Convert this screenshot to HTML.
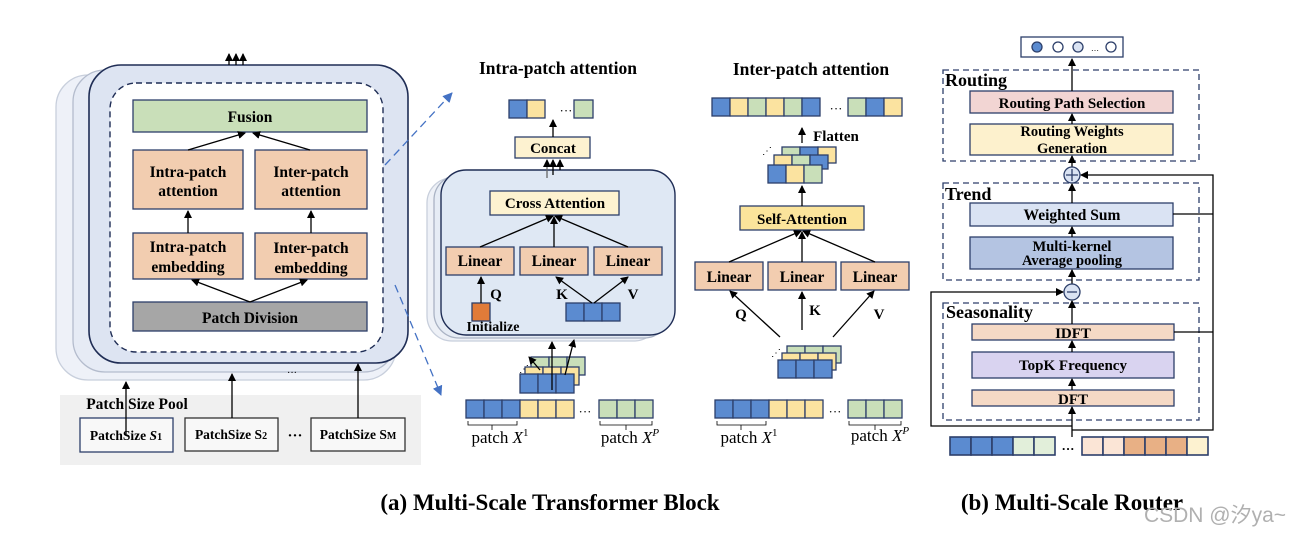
<!DOCTYPE html>
<html><head><meta charset="utf-8"><style>
body{margin:0;background:#fff;}
svg{display:block;font-family:"Liberation Serif",serif;}
.b{font-weight:bold;}
</style></head><body>
<svg width="1294" height="536" viewBox="0 0 1294 536" xmlns="http://www.w3.org/2000/svg">
<defs>
<marker id="a" markerWidth="8" markerHeight="8" refX="7" refY="4" orient="auto" markerUnits="userSpaceOnUse"><path d="M0,0 L8,4 L0,8 Z" fill="#000"/></marker>
<marker id="ab" markerWidth="10" markerHeight="10" refX="9" refY="5" orient="auto" markerUnits="userSpaceOnUse"><path d="M0,0 L10,5 L0,10 Z" fill="#4472c4"/></marker>
</defs>
<g stroke="#000" stroke-width="1.3" fill="none">
<rect x="60" y="395" width="361" height="70" fill="#f0f0f0" stroke="none"/>
<rect x="56" y="75" width="340" height="305" rx="32" fill="#eef1f8" stroke="#c8cfdc"/>
<rect x="73" y="70" width="323" height="302" rx="32" fill="#e6ebf5" stroke="#b4bccd"/>
<rect x="89" y="65" width="319" height="298" rx="32" fill="#dde4f2" stroke="#1f2d55" stroke-width="1.6"/>
<rect x="110" y="83" width="273" height="269" rx="26" fill="#fff" stroke="#1f2d55" stroke-dasharray="6,4" stroke-width="1.4"/>
<rect x="133" y="100" width="234" height="32" fill="#c9dfb9" stroke="#2d3f6a"/>
<rect x="133" y="150" width="110" height="59" fill="#f2cdb0" stroke="#2d3f6a"/>
<rect x="255" y="150" width="112" height="59" fill="#f2cdb0" stroke="#2d3f6a"/>
<rect x="133" y="233" width="110" height="46" fill="#f2cdb0" stroke="#2d3f6a"/>
<rect x="255" y="233" width="112" height="46" fill="#f2cdb0" stroke="#2d3f6a"/>
<rect x="133" y="302" width="234" height="29" fill="#a6a6a6" stroke="#2d3f6a"/>
<line x1="188" y1="150" x2="245" y2="133" marker-end="url(#a)"/>
<line x1="310" y1="150" x2="253" y2="133" marker-end="url(#a)"/>
<line x1="188" y1="233" x2="188" y2="211" marker-end="url(#a)"/>
<line x1="311" y1="233" x2="311" y2="211" marker-end="url(#a)"/>
<line x1="250" y1="302" x2="192" y2="280" marker-end="url(#a)"/>
<line x1="250" y1="302" x2="307" y2="280" marker-end="url(#a)"/>
<line x1="229" y1="65" x2="229" y2="54" marker-end="url(#a)"/>
<line x1="236" y1="65" x2="236" y2="54" marker-end="url(#a)"/>
<line x1="243" y1="65" x2="243" y2="54" marker-end="url(#a)"/>
<rect x="80" y="418" width="93" height="34" fill="#f8f8f8" stroke="#2d3f6a"/>
<rect x="185" y="418" width="93" height="33" fill="#f8f8f8" stroke="#333"/>
<rect x="311" y="418" width="94" height="33" fill="#f8f8f8" stroke="#333"/>
<line x1="126" y1="434" x2="126" y2="382" marker-end="url(#a)"/>
<line x1="232" y1="418" x2="232" y2="374" marker-end="url(#a)"/>
<line x1="358" y1="418" x2="358" y2="364" marker-end="url(#a)"/>
<line x1="385" y1="165" x2="452" y2="93" stroke="#4472c4" stroke-dasharray="8,5" marker-end="url(#ab)"/>
<line x1="395" y1="285" x2="441" y2="395" stroke="#4472c4" stroke-dasharray="8,5" marker-end="url(#ab)"/>

<rect x="427" y="178" width="232" height="163" rx="25" fill="#eef1f7" stroke="#c8cfdc"/>
<rect x="434" y="175" width="235" height="163" rx="25" fill="#e6ecf5" stroke="#aab3c4"/>
<rect x="441" y="170" width="234" height="165" rx="25" fill="#dfe8f4" stroke="#1f2d55" stroke-width="1.4"/>
<rect x="509" y="100" width="18" height="18" fill="#5b8bd0" stroke="#2d3f6a"/>
<rect x="527" y="100" width="18" height="18" fill="#fbe3a0" stroke="#2d3f6a"/>
<rect x="574" y="100" width="19" height="18" fill="#c9dfb9" stroke="#2d3f6a"/>
<rect x="515" y="137" width="75" height="21" fill="#fdf2d0" stroke="#2d3f6a"/>
<line x1="553" y1="137" x2="553" y2="120" marker-end="url(#a)"/>
<line x1="547" y1="178" x2="547" y2="160" marker-end="url(#a)" stroke="#666"/>
<line x1="553" y1="175" x2="553" y2="160" marker-end="url(#a)"/>
<line x1="560" y1="170" x2="560" y2="160" marker-end="url(#a)"/>
<rect x="490" y="191" width="129" height="24" fill="#fdf2d0" stroke="#2d3f6a"/>
<rect x="446" y="247" width="68" height="28" fill="#f2cdb0" stroke="#2d3f6a"/>
<rect x="520" y="247" width="68" height="28" fill="#f2cdb0" stroke="#2d3f6a"/>
<rect x="594" y="247" width="68" height="28" fill="#f2cdb0" stroke="#2d3f6a"/>
<line x1="480" y1="247" x2="553" y2="216" marker-end="url(#a)"/>
<line x1="554" y1="247" x2="554" y2="217" marker-end="url(#a)"/>
<line x1="628" y1="247" x2="555" y2="216" marker-end="url(#a)"/>
<rect x="472" y="303" width="18" height="18" fill="#e07b39" stroke="#2d3f6a"/>
<line x1="481" y1="303" x2="481" y2="277" marker-end="url(#a)"/>
<rect x="566" y="303" width="18" height="18" fill="#5b8bd0" stroke="#2d3f6a"/>
<rect x="584" y="303" width="18" height="18" fill="#5b8bd0" stroke="#2d3f6a"/>
<rect x="602" y="303" width="18" height="18" fill="#5b8bd0" stroke="#2d3f6a"/>
<line x1="592" y1="303" x2="556" y2="277" marker-end="url(#a)"/>
<line x1="594" y1="303" x2="628" y2="277" marker-end="url(#a)"/>
<g stroke="#2d3f6a">
<rect x="531" y="357" width="18" height="18" fill="#c9dfb9"/><rect x="549" y="357" width="18" height="18" fill="#c9dfb9"/><rect x="567" y="357" width="18" height="18" fill="#c9dfb9"/>
<rect x="525" y="367" width="18" height="18" fill="#fbe3a0"/><rect x="543" y="367" width="18" height="18" fill="#fbe3a0"/><rect x="561" y="367" width="18" height="18" fill="#fbe3a0"/>
<rect x="520" y="374" width="18" height="19" fill="#5b8bd0"/><rect x="538" y="374" width="18" height="19" fill="#5b8bd0"/><rect x="556" y="374" width="18" height="19" fill="#5b8bd0"/>
</g>
<line x1="540" y1="370" x2="529" y2="357" marker-end="url(#a)"/>
<line x1="552" y1="390" x2="552" y2="342" marker-end="url(#a)"/>
<line x1="565" y1="375" x2="574" y2="340" marker-end="url(#a)"/>
<g stroke="#2d3f6a">
<rect x="466" y="400" width="18" height="18" fill="#5b8bd0"/><rect x="484" y="400" width="18" height="18" fill="#5b8bd0"/><rect x="502" y="400" width="18" height="18" fill="#5b8bd0"/>
<rect x="520" y="400" width="18" height="18" fill="#fbe3a0"/><rect x="538" y="400" width="18" height="18" fill="#fbe3a0"/><rect x="556" y="400" width="18" height="18" fill="#fbe3a0"/>
<rect x="599" y="400" width="18" height="18" fill="#c9dfb9"/><rect x="617" y="400" width="18" height="18" fill="#c9dfb9"/><rect x="635" y="400" width="18" height="18" fill="#c9dfb9"/>
</g>
<path d="M468,421 V425 H517 V421 M492,425 V430" stroke-width="0.8"/>
<path d="M600,421 V425 H652 V421 M626,425 V430" stroke-width="0.8"/>

<g stroke="#2d3f6a">
<rect x="712" y="98" width="18" height="18" fill="#5b8bd0"/><rect x="730" y="98" width="18" height="18" fill="#fbe3a0"/><rect x="748" y="98" width="18" height="18" fill="#c9dfb9"/><rect x="766" y="98" width="18" height="18" fill="#fbe3a0"/><rect x="784" y="98" width="18" height="18" fill="#c9dfb9"/><rect x="802" y="98" width="18" height="18" fill="#5b8bd0"/>
<rect x="848" y="98" width="18" height="18" fill="#c9dfb9"/><rect x="866" y="98" width="18" height="18" fill="#5b8bd0"/><rect x="884" y="98" width="18" height="18" fill="#fbe3a0"/>
<rect x="782" y="147" width="18" height="16" fill="#c9dfb9"/><rect x="800" y="147" width="18" height="16" fill="#5b8bd0"/><rect x="818" y="147" width="18" height="16" fill="#fbe3a0"/>
<rect x="774" y="155" width="18" height="14" fill="#fbe3a0"/><rect x="792" y="155" width="18" height="14" fill="#c9dfb9"/><rect x="810" y="155" width="18" height="14" fill="#5b8bd0"/>
<rect x="768" y="165" width="18" height="18" fill="#5b8bd0"/><rect x="786" y="165" width="18" height="18" fill="#fbe3a0"/><rect x="804" y="165" width="18" height="18" fill="#c9dfb9"/>
</g>
<line x1="802" y1="143" x2="802" y2="128" marker-end="url(#a)"/>
<rect x="740" y="206" width="124" height="24" fill="#fbe49b" stroke="#2d3f6a"/>
<line x1="802" y1="206" x2="802" y2="186" marker-end="url(#a)"/>
<rect x="695" y="262" width="68" height="28" fill="#f2cdb0" stroke="#2d3f6a"/>
<rect x="768" y="262" width="68" height="28" fill="#f2cdb0" stroke="#2d3f6a"/>
<rect x="841" y="262" width="68" height="28" fill="#f2cdb0" stroke="#2d3f6a"/>
<line x1="729" y1="262" x2="801" y2="231" marker-end="url(#a)"/>
<line x1="802" y1="262" x2="802" y2="232" marker-end="url(#a)"/>
<line x1="875" y1="262" x2="803" y2="231" marker-end="url(#a)"/>
<line x1="780" y1="337" x2="730" y2="291" marker-end="url(#a)"/>
<line x1="802" y1="330" x2="802" y2="292" marker-end="url(#a)"/>
<line x1="833" y1="337" x2="874" y2="291" marker-end="url(#a)"/>
<g stroke="#2d3f6a">
<rect x="787" y="346" width="18" height="17" fill="#c9dfb9"/><rect x="805" y="346" width="18" height="17" fill="#c9dfb9"/><rect x="823" y="346" width="18" height="17" fill="#c9dfb9"/>
<rect x="782" y="353" width="18" height="17" fill="#fbe3a0"/><rect x="800" y="353" width="18" height="17" fill="#fbe3a0"/><rect x="818" y="353" width="18" height="17" fill="#fbe3a0"/>
<rect x="778" y="360" width="18" height="18" fill="#5b8bd0"/><rect x="796" y="360" width="18" height="18" fill="#5b8bd0"/><rect x="814" y="360" width="18" height="18" fill="#5b8bd0"/>
<rect x="715" y="400" width="18" height="18" fill="#5b8bd0"/><rect x="733" y="400" width="18" height="18" fill="#5b8bd0"/><rect x="751" y="400" width="18" height="18" fill="#5b8bd0"/>
<rect x="769" y="400" width="18" height="18" fill="#fbe3a0"/><rect x="787" y="400" width="18" height="18" fill="#fbe3a0"/><rect x="805" y="400" width="18" height="18" fill="#fbe3a0"/>
<rect x="848" y="400" width="18" height="18" fill="#c9dfb9"/><rect x="866" y="400" width="18" height="18" fill="#c9dfb9"/><rect x="884" y="400" width="18" height="18" fill="#c9dfb9"/>
</g>
<path d="M717,421 V425 H766 V421 M741,425 V430" stroke-width="0.8"/>
<path d="M849,421 V425 H901 V421 M875,425 V430" stroke-width="0.8"/>

<rect x="1021" y="37" width="102" height="20" fill="#fff" stroke="#2d3f6a"/>
<circle cx="1037" cy="47" r="5" fill="#5b8bd0" stroke="#2d3f6a"/>
<circle cx="1058" cy="47" r="5" fill="#fff" stroke="#2d3f6a"/>
<circle cx="1078" cy="47" r="5" fill="#dae3f3" stroke="#2d3f6a"/>
<circle cx="1111" cy="47" r="5" fill="#fff" stroke="#2d3f6a"/>
<rect x="943" y="70" width="256" height="91" stroke="#2d3f6a" stroke-dasharray="6,4"/>
<rect x="943" y="183" width="256" height="97" stroke="#2d3f6a" stroke-dasharray="6,4"/>
<rect x="943" y="303" width="256" height="117" stroke="#2d3f6a" stroke-dasharray="6,4"/>
<rect x="970" y="91" width="203" height="22" fill="#f2d5d3" stroke="#2d3f6a"/>
<rect x="970" y="124" width="203" height="31" fill="#fdf1cd" stroke="#2d3f6a"/>
<rect x="970" y="203" width="203" height="23" fill="#dae3f3" stroke="#2d3f6a"/>
<rect x="970" y="237" width="203" height="32" fill="#b4c4e2" stroke="#2d3f6a"/>
<rect x="972" y="324" width="202" height="16" fill="#f5d9c5" stroke="#2d3f6a"/>
<rect x="972" y="352" width="202" height="26" fill="#d9d3f0" stroke="#2d3f6a"/>
<rect x="972" y="390" width="202" height="16" fill="#f5d9c5" stroke="#2d3f6a"/>
<line x1="1072" y1="91" x2="1072" y2="59" marker-end="url(#a)"/>
<line x1="1072" y1="124" x2="1072" y2="114" marker-end="url(#a)"/>
<line x1="1072" y1="167" x2="1072" y2="156" marker-end="url(#a)"/>
<circle cx="1072" cy="175" r="8" fill="#dae3f3" stroke="#2d3f6a"/>
<path d="M1066,175 H1078 M1072,169 V181" stroke="#2d3f6a"/>
<line x1="1072" y1="203" x2="1072" y2="184" marker-end="url(#a)"/>
<line x1="1072" y1="237" x2="1072" y2="227" marker-end="url(#a)"/>
<line x1="1072" y1="284" x2="1072" y2="270" marker-end="url(#a)"/>
<circle cx="1072" cy="292" r="8" fill="#dae3f3" stroke="#2d3f6a"/>
<path d="M1067,292 H1077" stroke="#2d3f6a"/>
<line x1="1072" y1="324" x2="1072" y2="301" marker-end="url(#a)"/>
<line x1="1072" y1="352" x2="1072" y2="341" marker-end="url(#a)"/>
<line x1="1072" y1="390" x2="1072" y2="379" marker-end="url(#a)"/>
<line x1="1072" y1="437" x2="1072" y2="407" marker-end="url(#a)"/>
<path d="M1072,426 H931 V292 H1063" marker-end="url(#a)"/>
<path d="M1072,430 H1213 V175 H1081" marker-end="url(#a)"/>
<line x1="1173" y1="214" x2="1213" y2="214"/>
<line x1="1174" y1="332" x2="1213" y2="332"/>
<g stroke="#2d3f6a" stroke-width="1.6">
<rect x="950" y="437" width="21" height="18" fill="#5b8bd0"/><rect x="971" y="437" width="21" height="18" fill="#5b8bd0"/><rect x="992" y="437" width="21" height="18" fill="#5b8bd0"/><rect x="1013" y="437" width="21" height="18" fill="#e2efda"/><rect x="1034" y="437" width="21" height="18" fill="#e2efda"/>
<rect x="1082" y="437" width="21" height="18" fill="#fbe5d6"/><rect x="1103" y="437" width="21" height="18" fill="#fbe5d6"/><rect x="1124" y="437" width="21" height="18" fill="#e8b085"/><rect x="1145" y="437" width="21" height="18" fill="#e8b085"/><rect x="1166" y="437" width="21" height="18" fill="#e8b085"/><rect x="1187" y="437" width="21" height="18" fill="#fdf2d0"/>
</g>
</g>

<g class="b" text-anchor="middle" fill="#000">
<text x="250" y="122" font-size="15.5">Fusion</text>
<text x="188" y="177" font-size="15.5">Intra-patch</text><text x="188" y="196" font-size="15.5">attention</text>
<text x="311" y="177" font-size="15.5">Inter-patch</text><text x="311" y="196" font-size="15.5">attention</text>
<text x="188" y="252" font-size="15.5">Intra-patch</text><text x="188" y="272" font-size="15.5">embedding</text>
<text x="311" y="253" font-size="15.5">Inter-patch</text><text x="311" y="273" font-size="15.5">embedding</text>
<text x="250" y="323" font-size="15.5">Patch Division</text>
<text x="137" y="409" font-size="15.5">Patch Size Pool</text>
<text x="126" y="440" font-size="13.5">PatchSize <tspan font-style="italic">S</tspan><tspan font-size="10">1</tspan></text>
<text x="231" y="439" font-size="13.5">PatchSize S<tspan font-size="10">2</tspan></text>
<text x="358" y="439" font-size="13.5">PatchSize S<tspan font-size="10">M</tspan></text>
<text x="295" y="440" font-size="15">···</text>
<text x="292" y="376" font-size="10" font-weight="normal">···</text>
<text x="558" y="74" font-size="17.5">Intra-patch attention</text>
<text x="811" y="75" font-size="17.5">Inter-patch attention</text>
<text x="553" y="153" font-size="15">Concat</text>
<text x="555" y="208" font-size="15">Cross Attention</text>
<text x="480" y="266" font-size="15.5">Linear</text><text x="554" y="266" font-size="15.5">Linear</text><text x="628" y="266" font-size="15.5">Linear</text>
<text x="496" y="299" font-size="15">Q</text><text x="562" y="299" font-size="15">K</text><text x="633" y="299" font-size="15">V</text>
<text x="493" y="331" font-size="14">Initialize</text>
<text x="836" y="141" font-size="15">Flatten</text>
<text x="802" y="224" font-size="15">Self-Attention</text>
<text x="729" y="282" font-size="15.5">Linear</text><text x="802" y="282" font-size="15.5">Linear</text><text x="875" y="282" font-size="15.5">Linear</text>
<text x="741" y="319" font-size="15">Q</text><text x="815" y="315" font-size="15">K</text><text x="879" y="319" font-size="15">V</text>
<text x="1072" y="108" font-size="15">Routing Path Selection</text>
<text x="1072" y="136" font-size="14.5">Routing Weights</text>
<text x="1072" y="153" font-size="14.5">Generation</text>
<text x="1072" y="220" font-size="15.5">Weighted Sum</text>
<text x="1072" y="251" font-size="14.5">Multi-kernel</text>
<text x="1072" y="265" font-size="14.5">Average pooling</text>
<text x="1073" y="338" font-size="15">IDFT</text>
<text x="1073" y="370" font-size="15">TopK  Frequency</text>
<text x="1073" y="404" font-size="15">DFT</text>
<g text-anchor="start" font-size="18"><text x="945" y="86">Routing</text><text x="945" y="200">Trend</text><text x="946" y="318">Seasonality</text></g>
<text x="550" y="510" font-size="23">(a)  Multi-Scale Transformer Block</text>
<text x="1072" y="510" font-size="23">(b) Multi-Scale Router</text>
</g>
<g font-size="13" fill="#000" text-anchor="middle">
<text x="566" y="115">···</text><text x="836" y="113">···</text>
<text x="585" y="416">···</text><text x="835" y="416">···</text><text x="1068" y="453" font-weight="bold">···</text>
<text x="1095" y="51" font-size="8">…</text>
<text x="500" y="443" font-size="17">patch <tspan font-style="italic">X</tspan><tspan font-size="11" dy="-7">1</tspan></text>
<text x="630" y="443" font-size="17">patch <tspan font-style="italic">X</tspan><tspan font-size="11" dy="-7" font-style="italic">P</tspan></text>
<text x="749" y="443" font-size="17">patch <tspan font-style="italic">X</tspan><tspan font-size="11" dy="-7">1</tspan></text>
<text x="880" y="441" font-size="17">patch <tspan font-style="italic">X</tspan><tspan font-size="11" dy="-7" font-style="italic">P</tspan></text>
<text x="767" y="154" font-size="10">⋰</text><text x="524" y="372" font-size="10">⋰</text><text x="776" y="356" font-size="10">⋰</text>
</g>
<text x="1215" y="522" font-size="21" fill="#b0b0b0" text-anchor="middle" font-family="Liberation Sans, 'Noto Sans CJK SC', sans-serif">CSDN @汐ya~</text>
</svg>
</body></html>
